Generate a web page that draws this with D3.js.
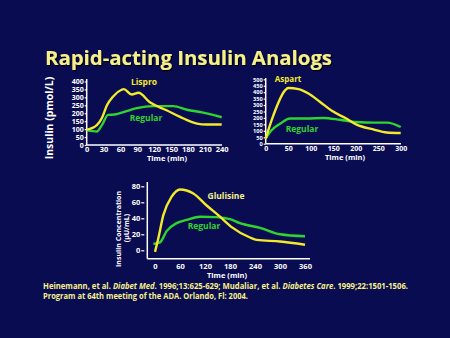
<!DOCTYPE html>
<html>
<head>
<meta charset="utf-8">
<script src="https://cdn.jsdelivr.net/npm/d3@7"></script>
<style>
  html, body { margin: 0; padding: 0; background: #0a0c52; }
  svg { display: block; }
</style>
</head>
<body>
<div id="app"></div>
<script>
const width = 450;
const height = 338;

// Lispro vs regular (pmol/L)
const lisproTime = [0, 18, 27, 36, 47, 62, 66, 80, 92, 113, 142, 166, 196, 213, 240];
const lisproValues = [95, 125, 170, 250, 306, 348, 352, 318, 329, 267, 219, 177, 135, 129, 129];
const regular1Time = [0, 18, 27, 38, 50, 68, 89, 118, 154, 178, 207, 240];
const regular1Values = [94, 85, 125, 190, 192, 210, 232, 245, 245, 222, 204, 175];

// Aspart vs regular (pmol/L)
const aspartTime = [0, 17, 43, 50, 73, 95, 121, 147, 180, 202, 239, 269, 300];
const aspartValues = [40, 220, 414, 432, 424, 390, 324, 255, 194, 148, 111, 87, 83];
const regular2Time = [0, 13, 32, 54, 91, 128, 165, 202, 239, 270, 300];
const regular2Values = [40, 104, 155, 196, 196, 200, 186, 168, 164, 164, 130];

// Glulisine vs regular (µU/mL)
const glulisineTime = [0, 8, 20, 40, 60, 92, 124, 156, 184, 228, 244, 300, 360];
const glulisineValues = [-2, 15, 44, 67, 76, 71, 56, 42, 29, 16, 13, 11, 7];
const regular3Time = [-4, 12, 28, 52, 76, 108, 148, 180, 204, 252, 300, 360];
const regular3Values = [8, 10, 24, 34, 38, 42, 41.5, 39, 34, 28, 20, 17.5];

const ticks1X = [0, 30, 60, 90, 120, 150, 180, 210, 240];
const ticks1Y = [0, 50, 100, 150, 200, 250, 300, 350, 400];
const ticks2X = [0, 50, 100, 150, 200, 250, 300];
const ticks2Y = [0, 50, 100, 150, 200, 250, 300, 350, 400, 450, 500];
const ticks3X = [0, 60, 120, 180, 240, 300, 360];
const ticks3Y = [0, 20, 40, 60, 80];

const yellow = '#f3ea2c';
const green = '#2fd42f';
const paleYellow = '#f6f08a';
const font = '"Open Sans", "DejaVu Sans", sans-serif';

const svg = d3.select('#app').append('svg')
  .attr('width', width)
  .attr('height', height);

svg.append('rect').attr('width', width).attr('height', height).attr('fill', '#0a0c52');

const defs = svg.append('defs');
const shadow = defs.append('filter').attr('id', 'shadow');
shadow.append('feDropShadow')
  .attr('dx', 1.2).attr('dy', 1.2).attr('stdDeviation', 0.6)
  .attr('flood-color', '#000').attr('flood-opacity', 0.9);

// title
svg.append('text')
  .attr('x', 45).attr('y', 65)
  .attr('textLength', 287).attr('lengthAdjust', 'spacingAndGlyphs')
  .attr('fill', paleYellow)
  .attr('font-family', font).attr('font-weight', 700).attr('font-size', 19.5)
  .attr('filter', 'url(#shadow)')
  .text('Rapid-acting Insulin Analogs');

function panel(opt) {
  const x = d3.scaleLinear().domain(opt.xDomain).range(opt.xRange);
  const y = d3.scaleLinear().domain(opt.yDomain).range(opt.yRange);
  const g = svg.append('g').attr('font-family', font).attr('font-weight', 700);

  const xAxis = d3.axisBottom(x).tickValues(opt.xTicks).tickSize(opt.xTickSize).tickPadding(opt.xPad);
  const yAxis = d3.axisLeft(y).tickValues(opt.yTicks).tickSize(opt.yTickSize).tickPadding(1);

  const gx = g.append('g').attr('transform', `translate(0,${opt.xAxisY})`).call(xAxis);
  const gy = g.append('g').attr('transform', `translate(${opt.yAxisX},0)`).call(yAxis);
  [gx, gy].forEach((a)=>{
    a.select('.domain').remove();
    a.selectAll('line').attr('stroke', '#fff').attr('stroke-width', 1.2);
    a.selectAll('text').attr('fill', '#fff')
      .attr('font-family', font).attr('font-weight', 700);
  });
  gx.selectAll('text').attr('font-size', opt.tickFont);
  gy.selectAll('text').attr('font-size', opt.yTickFont || opt.tickFont);
  if (opt.yTickShift) {
    gy.selectAll('.tick line').attr('x1', -opt.yTickShift).attr('x2', -opt.yTickShift - 3);
    gy.selectAll('.tick text').attr('x', -opt.yTickShift - 4);
  }

  // axis lines
  g.append('line')
    .attr('x1', opt.yAxisX).attr('x2', opt.yAxisX)
    .attr('y1', opt.yAxisTop).attr('y2', opt.xAxisY)
    .attr('stroke', '#fff').attr('stroke-width', 1.5);
  g.append('line')
    .attr('x1', opt.yAxisX).attr('x2', opt.xAxisEnd)
    .attr('y1', opt.xAxisY).attr('y2', opt.xAxisY)
    .attr('stroke', '#fff').attr('stroke-width', 1.5);

  const line = d3.line().x((d)=>x(d[0])).y((d)=>y(d[1])).curve(d3.curveMonotoneX);
  opt.series.forEach((s)=>{
    g.append('path')
      .datum(d3.zip(s.t, s.v))
      .attr('fill', 'none')
      .attr('stroke', s.color)
      .attr('stroke-width', 2.4)
      .attr('stroke-linejoin', 'round')
      .attr('d', line);
  });

  opt.labels.forEach((l)=>{
    g.append('text')
      .attr('x', l.x).attr('y', l.y)
      .attr('fill', l.color)
      .attr('font-size', l.size)
      .attr('text-anchor', 'middle')
      .text(l.text);
  });

  g.append('text')
    .attr('x', opt.timeX).attr('y', opt.timeY)
    .attr('fill', '#fff').attr('font-size', opt.timeFont)
    .attr('text-anchor', 'middle')
    .text('Time (min)');
}

panel({
  xDomain: [0, 240], xRange: [86.7, 221.7],
  yDomain: [0, 400], yRange: [145, 81.5],
  xTicks: ticks1X, yTicks: ticks1Y,
  xAxisY: 145, yAxisX: 86.7, yAxisTop: 79, xAxisEnd: 222,
  xTickSize: 0, xPad: 2, yTickSize: 2, tickFont: 7.5, yTickFont: 7,
  series: [
    {t: regular1Time, v: regular1Values, color: green},
    {t: lisproTime, v: lisproValues, color: yellow},
  ],
  labels: [
    {x: 144, y: 85, text: 'Lispro', color: yellow, size: 8.5},
    {x: 146, y: 121, text: 'Regular', color: green, size: 8.5},
  ],
  timeX: 167, timeY: 161, timeFont: 7.5,
});

panel({
  xDomain: [0, 300], xRange: [265.7, 400.7],
  yDomain: [0, 500], yRange: [143.7, 79.3],
  xTicks: ticks2X, yTicks: ticks2Y,
  xAxisY: 143.7, yAxisX: 265.7, yAxisTop: 78, xAxisEnd: 401,
  xTickSize: 0, xPad: 2, yTickSize: 2, tickFont: 7, yTickFont: 5.6,
  series: [
    {t: regular2Time, v: regular2Values, color: green},
    {t: aspartTime, v: aspartValues, color: yellow},
  ],
  labels: [
    {x: 288, y: 82, text: 'Aspart', color: yellow, size: 8},
    {x: 302, y: 132, text: 'Regular', color: green, size: 8.5},
  ],
  timeX: 345, timeY: 160, timeFont: 7.5,
});

panel({
  xDomain: [0, 360], xRange: [155, 305],
  yDomain: [0, 80], yRange: [250.3, 186.3],
  xTicks: ticks3X, yTicks: ticks3Y,
  xAxisY: 258.7, yAxisX: 147.3, yAxisTop: 182, xAxisEnd: 310,
  xTickSize: 0, xPad: 5, yTickSize: 0, yTickShift: 3, tickFont: 7.5,
  series: [
    {t: regular3Time, v: regular3Values, color: green},
    {t: glulisineTime, v: glulisineValues, color: yellow},
  ],
  labels: [
    {x: 226, y: 199, text: 'Glulisine', color: paleYellow, size: 8.5},
    {x: 204, y: 229, text: 'Regular', color: green, size: 8.5},
  ],
  timeX: 227, timeY: 278, timeFont: 7.5,
});

// y-axis titles
svg.append('text')
  .attr('transform', 'translate(53,118) rotate(-90)')
  .attr('text-anchor', 'middle')
  .attr('fill', '#fff')
  .attr('font-family', font).attr('font-weight', 700).attr('font-size', 10.5)
  .text('Insulin (pmol/L)');
svg.append('text')
  .attr('transform', 'translate(120.5,229) rotate(-90)')
  .attr('text-anchor', 'middle')
  .attr('fill', '#fff')
  .attr('font-family', font).attr('font-weight', 700).attr('font-size', 7)
  .text('Insulin Concentration');
svg.append('text')
  .attr('transform', 'translate(128.5,228) rotate(-90)')
  .attr('text-anchor', 'middle')
  .attr('fill', '#fff')
  .attr('font-family', font).attr('font-weight', 700).attr('font-size', 7)
  .text('(µU/mL)');

// references
const ref1 = svg.append('text')
  .attr('x', 43).attr('y', 289)
  .attr('textLength', 365).attr('lengthAdjust', 'spacingAndGlyphs')
  .attr('fill', paleYellow)
  .attr('font-family', font).attr('font-weight', 700).attr('font-size', 8.3);
ref1.append('tspan').text('Heinemann, et al. ');
ref1.append('tspan').attr('font-style', 'italic').text('Diabet Med');
ref1.append('tspan').text('. 1996;13:625-629; Mudaliar, et al. ');
ref1.append('tspan').attr('font-style', 'italic').text('Diabetes Care');
ref1.append('tspan').text('. 1999;22:1501-1506.');

svg.append('text')
  .attr('x', 43).attr('y', 299)
  .attr('textLength', 205).attr('lengthAdjust', 'spacingAndGlyphs')
  .attr('fill', paleYellow)
  .attr('font-family', font).attr('font-weight', 700).attr('font-size', 8.3)
  .text('Program at 64th meeting of the ADA. Orlando, Fl: 2004.');
</script>
</body>
</html>
